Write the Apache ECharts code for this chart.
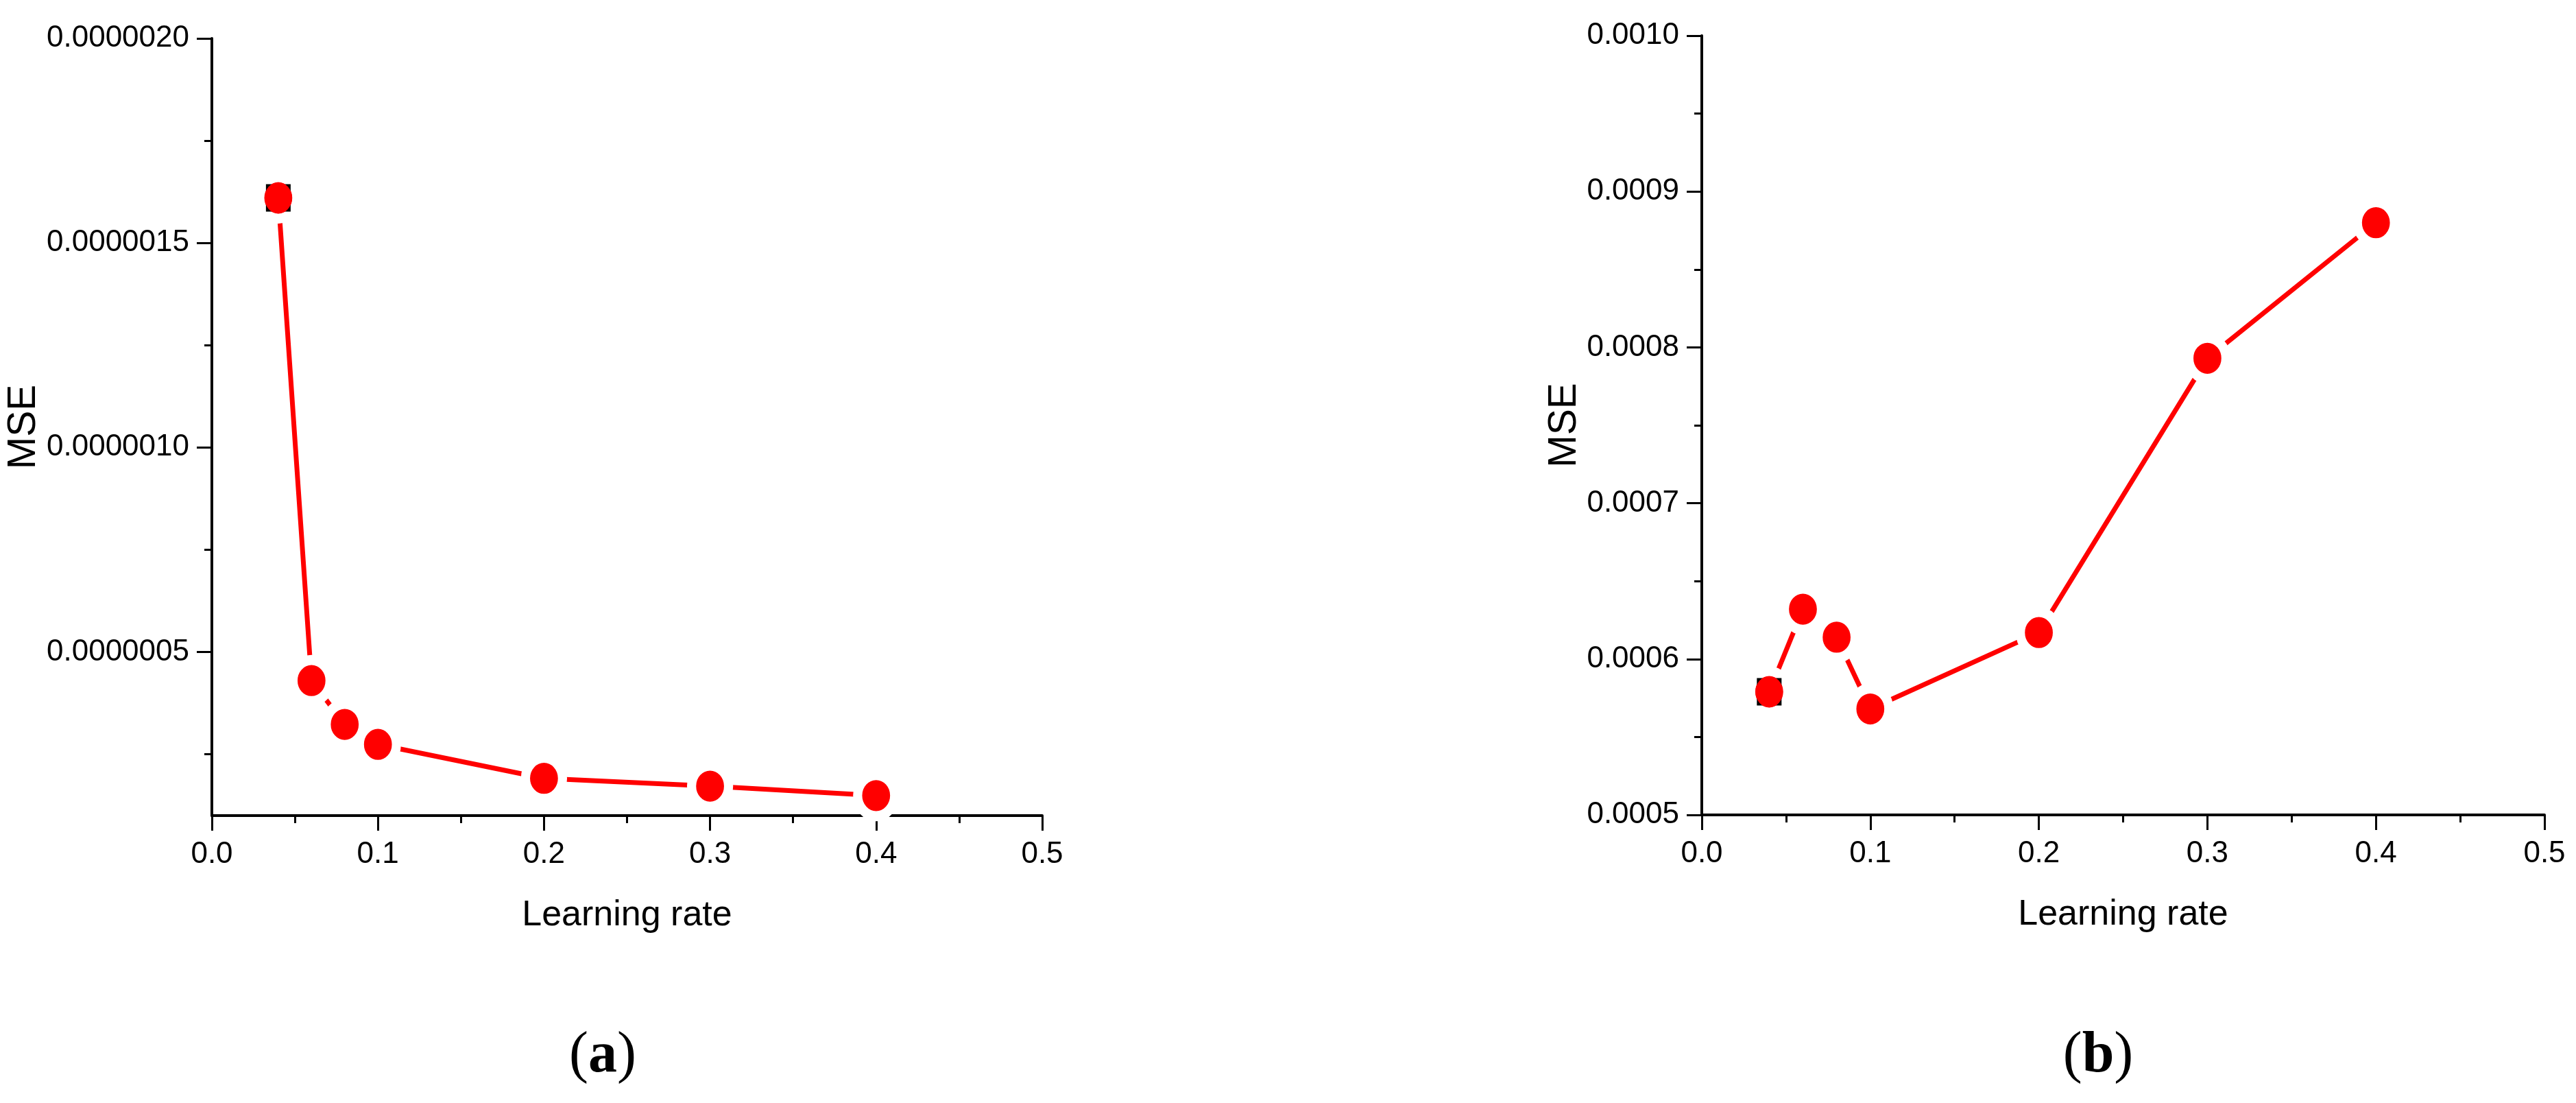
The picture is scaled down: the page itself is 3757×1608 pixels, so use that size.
<!DOCTYPE html>
<html>
<head>
<meta charset="utf-8">
<script src="https://cdn.jsdelivr.net/npm/echarts@6/dist/echarts.min.js"></script>
<style>
  html, body { margin: 0; padding: 0; background: #fff; }
  #main { width: 3757px; height: 1608px; }
</style>
</head>
<body>
<div id="main"></div>
<script>
// learning rates (shared by both panels)
var learningRate = [0.04, 0.06, 0.08, 0.1, 0.2, 0.3, 0.4];
// panel (a) MSE
var mseA = [1.61e-6, 4.30e-7, 3.23e-7, 2.74e-7, 1.91e-7, 1.72e-7, 1.49e-7];
// panel (b) MSE
var mseB = [0.000579, 0.000632, 0.000614, 0.000568, 0.000617, 0.000793, 0.00088];
// tick values for panel (a) y axis (axis starts at 1e-7)
var yTicksA = [5e-7, 1e-6, 1.5e-6, 2e-6];
var yMinorA = [2.5e-7, 7.5e-7, 1.25e-6, 1.75e-6];

var numFont = '"Liberation Sans Narrow", "Arial Narrow", "Liberation Sans", Arial, sans-serif';
var red = '#ff0000';
var ellipse = 'path://M0,-1A1,1,0,1,1,0,1A1,1,0,1,1,0,-1Z';

function pairs(xs, ys) {
  return xs.map(function (x, i) { return [x, ys[i]]; });
}

function xAxis(gridIndex) {
  return {
    type: 'value', gridIndex: gridIndex, min: 0, max: 0.5, interval: 0.1,
    name: 'Learning rate', nameLocation: 'middle', nameGap: 120,
    nameTextStyle: { fontFamily: numFont, fontSize: 52, color: '#000' },
    axisLine: { onZero: false, lineStyle: { color: '#000', width: 4 } },
    axisTick: { length: 22, lineStyle: { color: '#000', width: 3 } },
    minorTick: { show: true, splitNumber: 2, length: 11, lineStyle: { color: '#000', width: 3 } },
    axisLabel: { margin: 35, fontFamily: numFont, fontSize: 44, color: '#000',
      formatter: function (v) { return v.toFixed(1); } },
    splitLine: { show: false }
  };
}

function yName(gap) {
  return {
    name: 'MSE', nameLocation: 'middle', nameRotate: 90, nameGap: gap,
    nameTextStyle: { fontFamily: '"Liberation Sans", Arial, sans-serif', fontSize: 57, color: '#000' }
  };
}

function lineSeries(xi, yi, ys) {
  return {
    type: 'line', xAxisIndex: xi, yAxisIndex: yi,
    data: pairs(learningRate, ys),
    symbol: ellipse, symbolSize: [54, 60],
    itemStyle: { color: red, borderColor: '#fff', borderWidth: 14 },
    lineStyle: { color: red, width: 7, cap: 'round' },
    z: 2
  };
}

// Origin leaves a black square behind the first marker
function firstPoint(xi, yi, ys) {
  return [
    { type: 'scatter', xAxisIndex: xi, yAxisIndex: yi, data: [[learningRate[0], ys[0]]],
      symbol: 'rect', symbolSize: [36, 40], itemStyle: { color: '#000', opacity: 1 }, z: 3 },
    { type: 'scatter', xAxisIndex: xi, yAxisIndex: yi, data: [[learningRate[0], ys[0]]],
      symbol: ellipse, symbolSize: [40, 46], itemStyle: { color: red, opacity: 1 }, z: 4 }
  ];
}

function panelLabel(x, letter) {
  return {
    type: 'text', x: x, y: 1540,
    style: {
      text: '{p|(}{b|' + letter + '}{p|)}', textAlign: 'center', textVerticalAlign: 'middle',
      rich: {
        p: { fontFamily: '"Liberation Serif", "Times New Roman", serif', fontSize: 84, fill: '#000' },
        b: { fontFamily: '"Liberation Serif", "Times New Roman", serif', fontSize: 84, fontWeight: 'bold', fill: '#000' }
      }
    }
  };
}

var chart = echarts.init(document.getElementById('main'));

var option = {
  backgroundColor: '#fff',
  animation: false,
  grid: [
    { left: 309, top: 56, width: 1211, height: 1133 },
    { left: 2482, top: 52, width: 1229, height: 1136 }
  ],
  xAxis: [xAxis(0), xAxis(1)],
  yAxis: [
    Object.assign({
      type: 'value', gridIndex: 0, min: 1e-7, max: 2e-6,
      axisLine: { show: true, lineStyle: { color: '#000', width: 4 } },
      axisTick: { show: true, length: 22, customValues: yTicksA, lineStyle: { color: '#000', width: 3 } },
      axisLabel: { margin: 33, fontFamily: numFont, fontSize: 44, color: '#000', customValues: yTicksA,
        formatter: function (v) { return v.toFixed(7); } },
      splitLine: { show: false }
    }, yName(208)),
    {
      type: 'value', gridIndex: 0, min: 1e-7, max: 2e-6, position: 'left',
      axisLine: { show: false },
      axisTick: { show: true, length: 11, customValues: yMinorA, lineStyle: { color: '#000', width: 3 } },
      axisLabel: { show: false },
      splitLine: { show: false }
    },
    Object.assign({
      type: 'value', gridIndex: 1, min: 0.0005, max: 0.001, interval: 0.0001,
      axisLine: { show: true, lineStyle: { color: '#000', width: 4 } },
      axisTick: { show: true, length: 22, lineStyle: { color: '#000', width: 3 } },
      minorTick: { show: true, splitNumber: 2, length: 11, lineStyle: { color: '#000', width: 3 } },
      axisLabel: { margin: 33, fontFamily: numFont, fontSize: 44, color: '#000',
        formatter: function (v) { return v.toFixed(4); } },
      splitLine: { show: false }
    }, yName(146))
  ],
  series: [lineSeries(0, 0, mseA)]
    .concat(firstPoint(0, 0, mseA), [lineSeries(1, 2, mseB)], firstPoint(1, 2, mseB)),
  graphic: [panelLabel(879, 'a'), panelLabel(3060, 'b')]
};

chart.setOption(option);
</script>
</body>
</html>
